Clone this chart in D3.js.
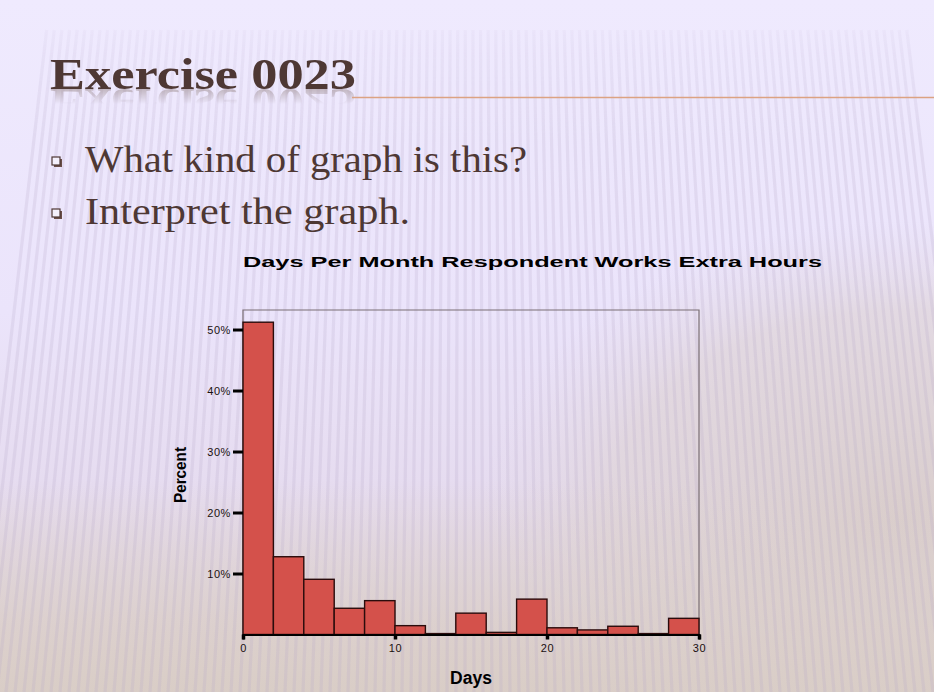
<!DOCTYPE html>
<html>
<head>
<meta charset="utf-8">
<script src="https://cdn.jsdelivr.net/npm/d3@7"></script>
<style>
html,body{margin:0;padding:0;background:#ece6fc;}
svg{display:block;}
</style>
</head>
<body>
<script>
// ---- data ----
const binStarts = [0, 2, 4, 6, 8, 10, 12, 14, 16, 18, 20, 22, 24, 26, 28];
const binWidth = 2;
const percents = [51.2, 12.75, 9.05, 4.3, 5.55, 1.45, 0.15, 3.5, 0.35, 5.8, 1.1, 0.75, 1.35, 0.15, 2.65];
const yTicks = [10, 20, 30, 40, 50];
const xTicks = [0, 10, 20, 30];
const slideTitle = "Exercise 0023";
const bullets = ["What kind of graph is this?", "Interpret the graph."];
const chartTitle = "Days Per Month Respondent Works Extra Hours";
const xLabel = "Days";
const yLabel = "Percent";

const W = 934, H = 692;
const svg = d3.select("body").append("svg").attr("width", W).attr("height", H);
const defs = svg.append("defs");

// ---- background ----
const bg = defs.append("linearGradient").attr("id", "bg").attr("x1", 0).attr("y1", 0).attr("x2", 0).attr("y2", 1);
bg.append("stop").attr("offset", "0").attr("stop-color", "#efeafe");
bg.append("stop").attr("offset", "0.45").attr("stop-color", "#ebe4fb");
bg.append("stop").attr("offset", "0.7").attr("stop-color", "#e6dcf0");
bg.append("stop").attr("offset", "1").attr("stop-color", "#dcd0cc");
svg.append("rect").attr("width", W).attr("height", H).attr("fill", "url(#bg)");

const sw = defs.append("radialGradient").attr("id", "swoosh").attr("cx", 0.5).attr("cy", 0.5).attr("r", 0.5);
sw.append("stop").attr("offset", "0").attr("stop-color", "#d8ccc8").attr("stop-opacity", 0.9);
sw.append("stop").attr("offset", "0.7").attr("stop-color", "#ddd2d2").attr("stop-opacity", 0.6);
sw.append("stop").attr("offset", "1").attr("stop-color", "#e2d8e4").attr("stop-opacity", 0);
svg.append("ellipse").attr("cx", 900).attr("cy", 520).attr("rx", 420).attr("ry", 300).attr("fill", "url(#swoosh)");
const bottomG = defs.append("linearGradient").attr("id", "bot").attr("x1", 0).attr("y1", 0).attr("x2", 0).attr("y2", 1);
bottomG.append("stop").attr("offset", "0").attr("stop-color", "#dcd0cc").attr("stop-opacity", 0);
bottomG.append("stop").attr("offset", "1").attr("stop-color", "#d9cdc6").attr("stop-opacity", 0.9);
svg.append("rect").attr("x", 0).attr("y", 480).attr("width", W).attr("height", 212).attr("fill", "url(#bot)");

// fan of stripes
const fade = defs.append("linearGradient").attr("id", "fade").attr("x1", 0).attr("y1", 0).attr("x2", 0).attr("y2", 1);
fade.append("stop").attr("offset", "0").attr("stop-color", "#fff").attr("stop-opacity", 0);
fade.append("stop").attr("offset", "0.08").attr("stop-color", "#fff").attr("stop-opacity", 0.6);
fade.append("stop").attr("offset", "0.2").attr("stop-color", "#fff").attr("stop-opacity", 1);
fade.append("stop").attr("offset", "1").attr("stop-color", "#fff").attr("stop-opacity", 1);
const mask = defs.append("mask").attr("id", "stripeMask");
mask.append("rect").attr("width", W).attr("height", H).attr("fill", "url(#fade)");
const fx = 467, fy = -3600;
const stripes = svg.append("g").attr("mask", "url(#stripeMask)");
d3.range(-30, W + 60, 9).forEach(xb => {
  stripes.append("line")
    .attr("x1", fx + (xb - fx) * (30 - fy) / (H - fy)).attr("y1", 30)
    .attr("x2", xb).attr("y2", H)
    .attr("stroke", "#b8a8c8").attr("stroke-opacity", 0.22).attr("stroke-width", 3.2);
});

// ---- slide title ----
const titleColor = "#4e3834";
defs.append("text").attr("id", "titleText").attr("x", 50).attr("y", 89)
  .attr("font-family", "Liberation Serif, serif").attr("font-weight", "bold").attr("font-size", 44)
  .attr("textLength", 306).attr("lengthAdjust", "spacingAndGlyphs")
  .text(slideTitle);

const refl = defs.append("linearGradient").attr("id", "refl").attr("x1", 0).attr("y1", 0).attr("x2", 0).attr("y2", 1);
refl.append("stop").attr("offset", "0").attr("stop-color", "#fff").attr("stop-opacity", 0.45);
refl.append("stop").attr("offset", "0.5").attr("stop-color", "#fff").attr("stop-opacity", 0);
const rmask = defs.append("mask").attr("id", "reflMask").attr("maskUnits", "userSpaceOnUse")
  .attr("x", 0).attr("y", 0).attr("width", W).attr("height", H);
rmask.append("rect").attr("x", 0).attr("y", 89).attr("width", 400).attr("height", 30).attr("fill", "url(#refl)");

svg.append("g").attr("mask", "url(#reflMask)")
  .append("use").attr("href", "#titleText")
  .attr("transform", "translate(0,178) scale(1,-1)")
  .attr("fill", "#8c7a78");

svg.append("line").attr("x1", 352).attr("x2", W).attr("y1", 97.5).attr("y2", 97.5)
  .attr("stroke", "#dca282").attr("stroke-width", 1.6);

svg.append("use").attr("href", "#titleText").attr("fill", titleColor);

// bullets
const bulletY = [172, 224];
const bulletLen = [442, 325];
bullets.forEach((b, i) => {
  const by = bulletY[i];
  svg.append("rect").attr("x", 54).attr("y", by - 13).attr("width", 8).attr("height", 8)
    .attr("fill", "#6a4e48");
  svg.append("rect").attr("x", 52).attr("y", by - 15).attr("width", 8).attr("height", 8)
    .attr("fill", "#f4f0fc").attr("stroke", "#4e3834").attr("stroke-width", 1.2);
  svg.append("text").attr("x", 85).attr("y", by)
    .attr("font-family", "Liberation Serif, serif").attr("font-size", 37)
    .attr("textLength", bulletLen[i]).attr("lengthAdjust", "spacingAndGlyphs")
    .attr("fill", "#4e3834").text(b);
});

// ---- chart ----
const x = d3.scaleLinear().domain([0, 30]).range([243, 699]);
const y = d3.scaleLinear().domain([0, 53.2]).range([634.5, 310]);

svg.append("text").attr("x", 243).attr("y", 267)
  .attr("font-family", "Liberation Sans, Arial, sans-serif").attr("font-weight", "bold").attr("font-size", 15.5)
  .attr("textLength", 579).attr("lengthAdjust", "spacingAndGlyphs")
  .attr("fill", "#000").text(chartTitle);

// frame
svg.append("path")
  .attr("d", `M${x(0)},${y(0)}V${y.range()[1]}H${x(30)}V${y(0)}`)
  .attr("fill", "none").attr("stroke", "#7a6e74").attr("stroke-width", 1.2);

// bars
svg.append("g").selectAll("rect").data(binStarts).join("rect")
  .attr("x", d => x(d))
  .attr("y", (d, i) => y(percents[i]))
  .attr("width", d => x(d + binWidth) - x(d))
  .attr("height", (d, i) => y(0) - y(percents[i]))
  .attr("fill", "#d4514b").attr("stroke", "#2a0c0c").attr("stroke-width", 1.4);

// y axis
const yAxis = svg.append("g").attr("transform", `translate(${x(0)},0)`)
  .call(d3.axisLeft(y).tickValues(yTicks).tickSize(10).tickPadding(2).tickFormat(d => d + "%"));
yAxis.select(".domain").remove();
yAxis.selectAll(".tick line").attr("stroke", "#000").attr("stroke-width", 3);
yAxis.selectAll(".tick text").attr("font-family", "Liberation Sans, Arial, sans-serif")
  .attr("font-size", 11).attr("letter-spacing", 0.6).attr("fill", "#1a1010");

// x axis
const xAxis = svg.append("g").attr("transform", `translate(0,${y(0)})`)
  .call(d3.axisBottom(x).tickValues(xTicks).tickSize(5).tickPadding(5).tickFormat(d3.format("d")));
xAxis.select(".domain").attr("stroke", "#000").attr("stroke-width", 2);
xAxis.selectAll(".tick line").attr("stroke", "#000").attr("stroke-width", 3.5);
xAxis.selectAll(".tick text").attr("font-family", "Liberation Sans, Arial, sans-serif")
  .attr("font-size", 11).attr("letter-spacing", 0.6).attr("fill", "#1a1010");

// axis labels
svg.append("text").attr("x", 471).attr("y", 684).attr("text-anchor", "middle")
  .attr("font-family", "Liberation Sans, Arial, sans-serif").attr("font-weight", "bold").attr("font-size", 17.5)
  .attr("fill", "#000").text(xLabel);
svg.append("text").attr("transform", "translate(186,475) rotate(-90)").attr("text-anchor", "middle")
  .attr("font-family", "Liberation Sans Narrow, Liberation Sans, Arial, sans-serif").attr("font-weight", "bold").attr("font-size", 17)
  .attr("textLength", 56).attr("lengthAdjust", "spacingAndGlyphs")
  .attr("fill", "#000").text(yLabel);
</script>
</body>
</html>
